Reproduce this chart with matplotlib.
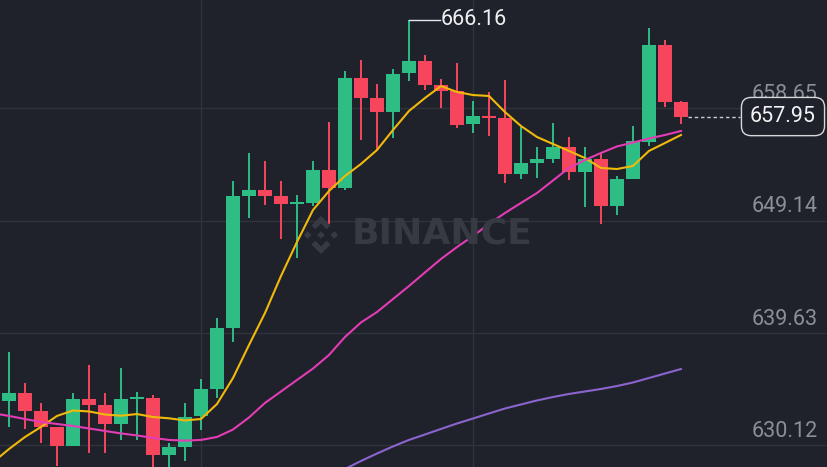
import matplotlib
matplotlib.use('Agg')
import matplotlib.pyplot as plt
from matplotlib.patches import Polygon

# candle data (oldest -> newest)
opens = [633.89, 634.54, 633.04, 631.66, 630.10, 634.03, 633.57, 631.91, 634.05, 634.11,
         629.29, 630.02, 632.59, 634.90, 640.04, 651.25, 651.74, 651.25, 650.55, 650.66,
         653.43, 651.93, 661.19, 659.49, 658.36, 661.61, 662.65, 660.62, 660.14, 657.29,
         658.00, 657.83, 653.13, 654.05, 654.33, 655.40, 653.28, 654.38, 650.38, 652.69,
         655.82, 664.00, 659.18]
closes = [634.54, 633.06, 631.71, 630.10, 634.03, 633.57, 631.91, 634.05, 634.16, 629.29,
          630.02, 632.56, 634.90, 640.04, 651.25, 651.74, 651.25, 650.55, 650.70, 653.43,
          651.93, 661.19, 659.54, 658.36, 661.55, 662.65, 660.62, 660.14, 657.23, 658.00,
          657.85, 653.13, 654.02, 654.33, 655.40, 653.28, 654.38, 650.38, 652.69, 655.84,
          664.00, 659.18, 657.95]
highs = [638.01, 635.38, 633.74, 631.71, 634.54, 636.93, 634.54, 636.65, 634.62, 634.39,
         630.36, 633.69, 635.72, 640.88, 652.50, 654.84, 654.21, 652.52, 651.31, 654.19,
         657.51, 661.80, 662.73, 660.70, 662.00, 666.16, 663.16, 661.13, 662.51, 659.27,
         660.05, 661.04, 657.04, 655.40, 657.43, 656.19, 655.40, 654.98, 652.92, 657.15,
         665.42, 664.43, 659.26]
lows = [631.71, 631.52, 630.36, 628.39, 630.10, 629.51, 629.51, 630.59, 630.59, 628.33,
        628.05, 628.83, 631.43, 634.14, 638.90, 649.39, 650.49, 647.57, 645.96, 650.38,
        648.83, 651.74, 655.97, 655.12, 656.16, 660.98, 660.20, 658.65, 657.01, 656.58,
        656.33, 652.33, 652.67, 652.73, 653.99, 652.58, 650.27, 648.83, 649.62, 652.69,
        655.46, 658.78, 657.32]

# moving averages (first point sits just left of the view)
ma_start = -1
ma7 = [628.70, 629.82, 630.84, 631.69, 632.62, 633.08, 633.00, 632.74, 632.64, 632.78,
       632.53, 632.42, 632.24, 632.36, 633.63, 635.83, 638.62, 641.33, 644.46, 647.34,
       650.04, 651.65, 652.92, 653.94, 655.12, 656.81, 658.42, 659.52, 660.53, 660.03,
       659.77, 659.69, 658.33, 657.15, 656.22, 655.63, 655.04, 654.44, 653.60, 653.51,
       653.77, 655.04, 655.71, 656.39]
ma25 = [632.85, 632.62, 632.36, 632.11, 631.94, 631.77, 631.56, 631.35, 631.14, 630.97,
        630.76, 630.59, 630.53, 630.59, 630.84, 631.47, 632.49, 633.72, 634.69, 635.66,
        636.63, 637.78, 639.30, 640.53, 641.41, 642.51, 643.61, 644.76, 645.90, 646.91,
        647.84, 648.86, 649.79, 650.64, 651.48, 652.54, 653.60, 654.27, 654.87, 655.42,
        655.75, 656.09, 656.39, 656.73]
ma99_start = 20
ma99 = [627.46, 628.13, 628.81, 629.44, 630.04, 630.59, 631.05, 631.52, 631.98, 632.40,
        632.83, 633.25, 633.59, 633.93, 634.22, 634.48, 634.69, 634.90, 635.15, 635.45,
        635.83, 636.21, 636.59]

price_ticks = [658.65, 649.14, 639.63, 630.12]
max_price = 666.16
max_idx = 25
last_price = 657.95

bg = '#1f222a'
up = '#2ebd85'
down = '#f6465d'
grid_c = '#30333b'
label_c = '#8a8f98'

plt.rcParams['font.family'] = ['Roboto', 'DejaVu Sans']

fig = plt.figure(figsize=(8.28, 4.67), dpi=100, facecolor=bg)
ax = fig.add_axes([0, 0, 1, 1])
ax.set_facecolor(bg)
ax.set_xlim(-0.5625, 51.19)
ax.set_ylim(628.30, 667.81)
ax.axis('off')

# grid
for p in price_ticks:
    ax.axhline(p, color=grid_c, lw=1, zorder=0)
for gx in [12, 29]:
    ax.axvline(gx, color=grid_c, lw=1, zorder=0)

# watermark
W, H = 828.0, 467.0
def px(x, y):
    return (x / W, 1 - y / H)

wm = '#373a42'
cx, cy, s = 321, 235, 19
def logo_poly(pts):
    fig.patches.append(Polygon([px(cx + a * s, cy - b * s) for a, b in pts],
                               closed=True, transform=fig.transFigure,
                               facecolor=wm, edgecolor='none', zorder=0.5))
d = 0.2
logo_poly([(0, d), (d, 0), (0, -d), (-d, 0)])
logo_poly([(-0.7, d), (-0.7 + d, 0), (-0.7, -d), (-0.7 - d, 0)])
logo_poly([(0.7, d), (0.7 + d, 0), (0.7, -d), (0.7 - d, 0)])
logo_poly([(0, 1.0), (0.5, 0.5), (0.3, 0.3), (0, 0.6), (-0.3, 0.3), (-0.5, 0.5)])
logo_poly([(0, -1.0), (0.5, -0.5), (0.3, -0.3), (0, -0.6), (-0.3, -0.3), (-0.5, -0.5)])
fig.text(352 / W, 1 - 234 / H, 'BINANCE', color=wm, fontsize=26, fontweight='bold',
         family='DejaVu Sans', ha='left', va='center', zorder=0.5)

# candles
xs = list(range(len(opens)))
for i in xs:
    o, c, h, l = opens[i], closes[i], highs[i], lows[i]
    col = up if c >= o else down
    ax.vlines(i, l, h, color=col, lw=1.4, zorder=2)
    bottom = min(o, c)
    height = max(abs(c - o), 0.13)
    ax.bar(i, height, bottom=bottom, width=0.86, color=col, zorder=3, linewidth=0)

# moving averages
ma_x = list(range(ma_start, ma_start + len(ma7)))
ax.plot(ma_x, ma7, color='#f0b90b', lw=1.5, zorder=4)
ax.plot(ma_x, ma25, color='#e33cb4', lw=1.5, zorder=4)
ax.plot(range(ma99_start, ma99_start + len(ma99)), ma99, color='#8c64cf', lw=1.5, zorder=4)

# price axis labels
for p in price_ticks:
    ax.text(818 / W, p + 0.3, f'{p:.2f}', transform=ax.get_yaxis_transform(),
            color=label_c, fontsize=15.5, ha='right', va='bottom', zorder=5)

# max price marker
lbl_x = (440 - 9) / 16.0
ax.plot([max_idx, lbl_x], [max_price, max_price], color='#e6e8eb', lw=1, zorder=5)
ax.text(lbl_x + 0.05, max_price, f'{max_price:.2f}', color='#eef0f2', fontsize=15.5,
        ha='left', va='center', zorder=5)

# last price line and box
box_left = (740 - 9) / 16.0
ax.plot([len(opens) - 1 + 0.45, box_left], [last_price, last_price], color='#c9ccd1',
        lw=1, ls=(0, (2.5, 2)), zorder=5)
ax.text(783 / W, last_price, f'{last_price:.2f}', transform=ax.get_yaxis_transform(),
        color='#f2f3f5', fontsize=15.5, ha='center', va='center', zorder=6,
        bbox=dict(boxstyle='round,pad=0.4,rounding_size=0.45', fc=bg, ec='#d6d8dc', lw=1))

fig.savefig('out.png', dpi=100, facecolor=bg)
